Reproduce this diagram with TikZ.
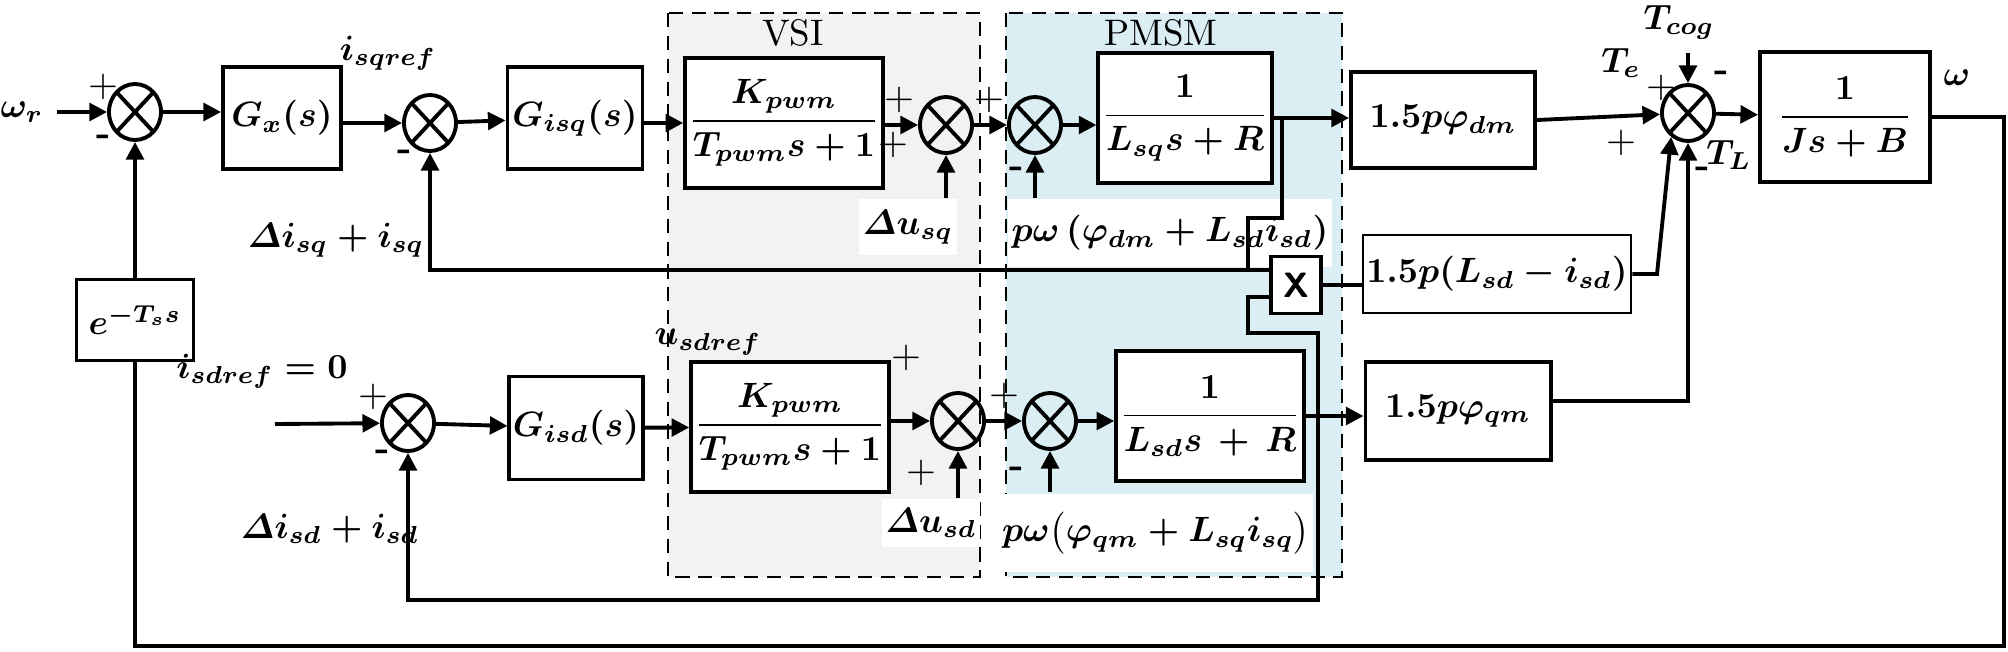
\documentclass[tikz,border=0pt]{standalone}
\usepackage{amsmath}
\usepackage{amssymb}
\usetikzlibrary{arrows.meta,shapes.geometric}

\definecolor{vsigray}{RGB}{242,242,242}
\definecolor{pmsmblue}{RGB}{218,238,243}

\begin{document}
\begin{tikzpicture}[x=0.01cm,y=-0.01cm,line width=1.1pt,
  font=\fontsize{10}{12}\selectfont\boldmath,
  >={Triangle[length=5pt,width=5pt]},
  blk/.style={draw,fill=white,inner sep=1pt},
  thinblk/.style={blk,line width=0.7pt},
  sumj/.style={draw,ellipse,minimum width=0.52cm,minimum height=0.56cm,inner sep=0pt,
    path picture={\draw (path picture bounding box.south west) -- (path picture bounding box.north east)
      (path picture bounding box.north west) -- (path picture bounding box.south east);}},
  wlbl/.style={fill=white,inner sep=1pt},
  sgn/.style={inner sep=0pt,font=\fontsize{11}{12}\selectfont},
  region/.style={dash pattern=on 4pt off 2.5pt,line width=0.6pt}]

\useasboundingbox (0,0) rectangle (2008,651);

\fill[vsigray] (668,13) rectangle (980,577);
\draw[region] (668,13) rectangle (980,577);
\fill[pmsmblue] (1006,13) rectangle (1342,577);
\draw[region] (1006,13) rectangle (1342,577);
\node[font=\fontsize{10.5}{12}\selectfont] (vsi) at (793,33) {VSI};
\node[font=\fontsize{10.5}{12}\selectfont] (pmsm) at (1161,33) {PMSM};

% q axis
\node (wr) at (22,112) {$\omega_r$};
\node[sumj] (s1) at (135,112) {};
\node[blk,minimum width=1.18cm,minimum height=1.02cm] (gx) at (282,118) {$G_x(s)$};
\node (isqref) at (388,53) {$i_{sqref}$};
\node[sumj] (s2) at (430,123) {};
\node[blk,minimum width=1.35cm,minimum height=1.02cm] (gisq) at (575,118) {$G_{isq}(s)$};
\node (disq) at (336,240) {$\varDelta i_{sq}+i_{sq}$};
\node[blk,minimum width=1.9cm,minimum height=1.3cm] (kq) at (784,123) {$\dfrac{K_{pwm}}{T_{pwm}s+1}$};
\node[sumj] (s3) at (946,125) {};
\node[wlbl,minimum width=0.8cm,minimum height=0.55cm] (duq) at (908,227) {$\varDelta u_{sq}$};
\node[sumj] (s4) at (1035,125) {};
\node[wlbl,minimum width=3.05cm,minimum height=0.67cm] (pwq) at (1170,233) {$p\omega\left(\varphi_{dm}+L_{sd}i_{sd}\right)$};
\node[blk,minimum width=1.69cm,minimum height=1.3cm] (lq) at (1185,118) {$\dfrac{1}{L_{sq}s+R}$};
\node[blk,minimum width=1.84cm,minimum height=0.96cm] (fdm) at (1443,120) {$1.5p\varphi_{dm}$};
\node[blk,font=\sffamily\bfseries\fontsize{10}{11}\selectfont,minimum width=0.5cm,minimum height=0.57cm] (xm) at (1296,285) {X};
\node[thinblk,minimum width=2.67cm,minimum height=0.78cm] (lsd) at (1497,274) {$1.5p(L_{sd}-i_{sd})$};
\node[blk,minimum width=1.17cm,minimum height=0.81cm] (eb) at (135,320) {$e^{-T_s s}$};

% torque and speed
\node[sumj] (s6) at (1688,113) {};
\node (tcog) at (1679,22) {$T_{cog}$};
\node (te) at (1621,63) {$T_e$};
\node (tl) at (1729,155) {$T_L$};
\node[blk,minimum width=1.7cm,minimum height=1.3cm] (jb) at (1845,117) {$\dfrac{1}{Js+B}$};
\node (w) at (1957,78) {$\omega$};

% d axis
\node (isdref) at (262,371) {$i_{sdref}=0$};
\node[sumj] (s5) at (408,423) {};
\node[blk,minimum width=1.31cm,minimum height=1.03cm] (gisd) at (576,428) {$G_{isd}(s)$};
\node (disd) at (330,529) {$\varDelta i_{sd}+i_{sd}$};
\node (usdref) at (708,342) {$u_{sdref}$};
\node[blk,minimum width=1.89cm,minimum height=1.3cm] (kd) at (790,427) {$\dfrac{K_{pwm}}{T_{pwm}s+1}$};
\node[sumj] (s7) at (958,421) {};
\node[wlbl,minimum width=0.87cm,minimum height=0.47cm] (dud) at (931,523) {$\varDelta u_{sd}$};
\node[sumj] (s8) at (1050,421) {};
\node[wlbl,minimum width=2.67cm,minimum height=0.78cm] (pwd) at (1156,533) {$p\omega\bigl(\varphi_{qm}+L_{sq}i_{sq}\bigr)$};
\node[blk,minimum width=1.86cm,minimum height=1.3cm] (ld) at (1210,416) {$\dfrac{1}{L_{sd}s\,+\,R}$};
\node[blk,minimum width=1.85cm,minimum height=0.98cm] (fqm) at (1458,411) {$1.5p\varphi_{qm}$};

% signs
\node[sgn] at (103,87) {$+$};
\node[sgn] at (104,140) {\textbf{-}};
\node[sgn] at (405,155) {\textbf{-}};
\node[sgn] at (899,100) {$+$};
\node[sgn] at (893,145) {$+$};
\node[sgn] at (989,100) {$+$};
\node[sgn] at (1017,172) {\textbf{-}};
\node[sgn] at (1661,88) {$+$};
\node[sgn] at (1722,76) {\textbf{-}};
\node[sgn] at (1621,143) {$+$};
\node[sgn] at (1703,172) {\textbf{-}};
\node[sgn] at (373,397) {$+$};
\node[sgn] at (383,455) {\textbf{-}};
\node[sgn] at (906,358) {$+$};
\node[sgn] at (921,473) {$+$};
\node[sgn] at (1004,396) {$+$};
\node[sgn] at (1017,472) {\textbf{-}};

\coordinate (bq) at (1282,118);
\coordinate (iq1) at (1282,218);
\coordinate (iq2) at (1248,218);
\coordinate (iq3) at (1248,270);
\coordinate (bd) at (1318,416);
\coordinate (id1) at (1318,333);
\coordinate (id2) at (1248,333);
\coordinate (id3) at (1248,297);
\coordinate (id4) at (1318,600);
\coordinate (ls1) at (1657,274);
\coordinate (sdin) at (275,424);
\coordinate (wo) at (2004,646);

\draw[->] (wr) -- (s1);
\draw[->] (s1) -- (s1 -| gx.west);
\draw[->] (gx.east |- s2) -- (s2);
\draw[->] (s2) -- (gisq);
\draw[->] (gisq.east |- kq) -- (kq);
\draw[->] (kq.east |- s3) -- (s3);
\draw[->] (duq.north -| s3) -- (s3);
\draw[->] (s3) -- (s4);
\draw[->] (pwq.north -| s4) -- (s4);
\draw[->] (s4) -- (s4 -| lq.west);
\draw[->] (lq.east) -- (lq.east -| fdm.west);
\draw (bq) -- (iq1) -- (iq2) -- (iq3) -- (iq3 -| xm.west);
\draw[->] (iq3) -| (s2);
\draw (xm.east) -- (xm.east -| lsd.west);
\draw[->] (lsd.east) -- (ls1) -- (s6.235);
\draw[->] (fdm.east) -- (s6);
\draw[->] (tcog.south -| s6) -- (s6);
\draw[->] (s6) -- (jb);
\draw (jb.east) -| (wo) -| (eb.south);
\draw[->] (eb) -- (s1);

\draw[->] (sdin) -- (s5);
\draw[->] (s5) -- (gisd);
\draw[->] (gisd) -- (kd);
\draw[->] (kd.east |- s7) -- (s7);
\draw[->] (dud.north -| s7) -- (s7);
\draw[->] (s7) -- (s8);
\draw[->] (pwd.north -| s8) -- (s8);
\draw[->] (s8) -- (s8 -| ld.west);
\draw[->] (ld.east |- bd) -- (bd -| fqm.west);
\draw (bd) -- (id1) -- (id2) -- (id3) -- (id3 -| xm.west);
\draw[->] (bd) -- (id4) -| (s5);
\draw[->] ([yshift=0.1cm]fqm.east) -| (s6);

\end{tikzpicture}
\end{document}
